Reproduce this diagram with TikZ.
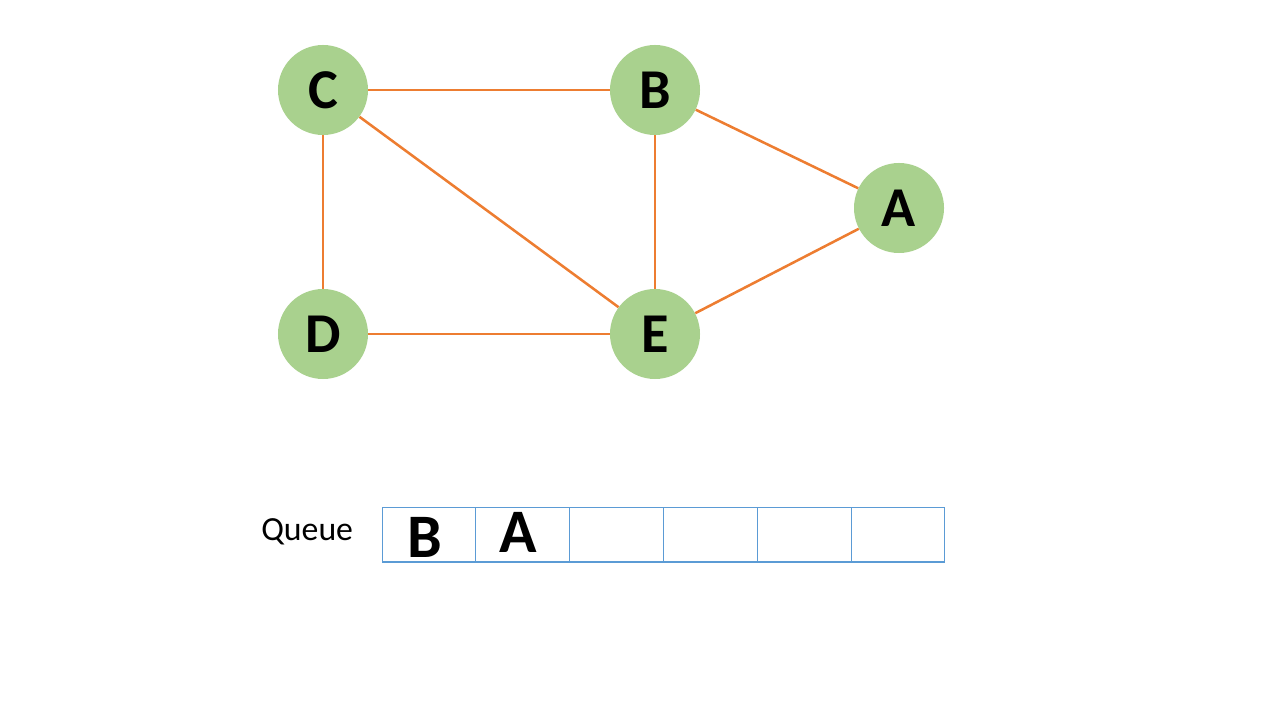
\documentclass[tikz,border=0pt]{standalone}
\usepackage{fontspec}
\setmainfont{Carlito}
\definecolor{nodegreen}{HTML}{A9D18E}
\definecolor{edgeorange}{HTML}{ED7D31}
\definecolor{queueblue}{HTML}{5B9BD5}
\tikzset{
  vertex/.style={circle,fill=nodegreen,minimum size=2.25cm,inner sep=0pt,font=\fontsize{40}{40}\selectfont\bfseries},
  edge/.style={draw=edgeorange,line width=1.8pt},
  cell/.style={draw=queueblue,line width=0.6pt},
  qitem/.style={font=\fontsize{44}{44}\selectfont\bfseries}
}
\begin{document}
\begin{tikzpicture}[x=0.025cm,y=-0.025cm]
    \useasboundingbox (0,0) rectangle (1280,720);
    % graph
    \node[vertex] (C) at (323,90) {C};
    \node[vertex] (B) at (655,90) {B};
    \node[vertex] (A) at (899,208) {A};
    \node[vertex] (D) at (323,334) {D};
    \node[vertex] (E) at (655,334) {E};
    \draw[edge] (C) -- (B);
    \draw[edge] (B) -- (A);
    \draw[edge] (C) -- (D);
    \draw[edge] (C) -- (E);
    \draw[edge] (B) -- (E);
    \draw[edge] (D) -- (E);
    \draw[edge] (E) -- (A);
    % queue
    \node[anchor=east,font=\fontsize{24}{24}\selectfont] (qlabel) at (358,532) {Queue};
    \foreach \i in {0,...,5}
      \draw[cell] (382+\i*93.8,507) rectangle (382+\i*93.8+93.8,562);
    \draw[draw=queueblue,line width=1.4pt] (382,562) -- (945,562);
    \node[qitem] (q1) at (425,537) {B};
    \node[qitem] (q2) at (518,532) {A};
\end{tikzpicture}
\end{document}
